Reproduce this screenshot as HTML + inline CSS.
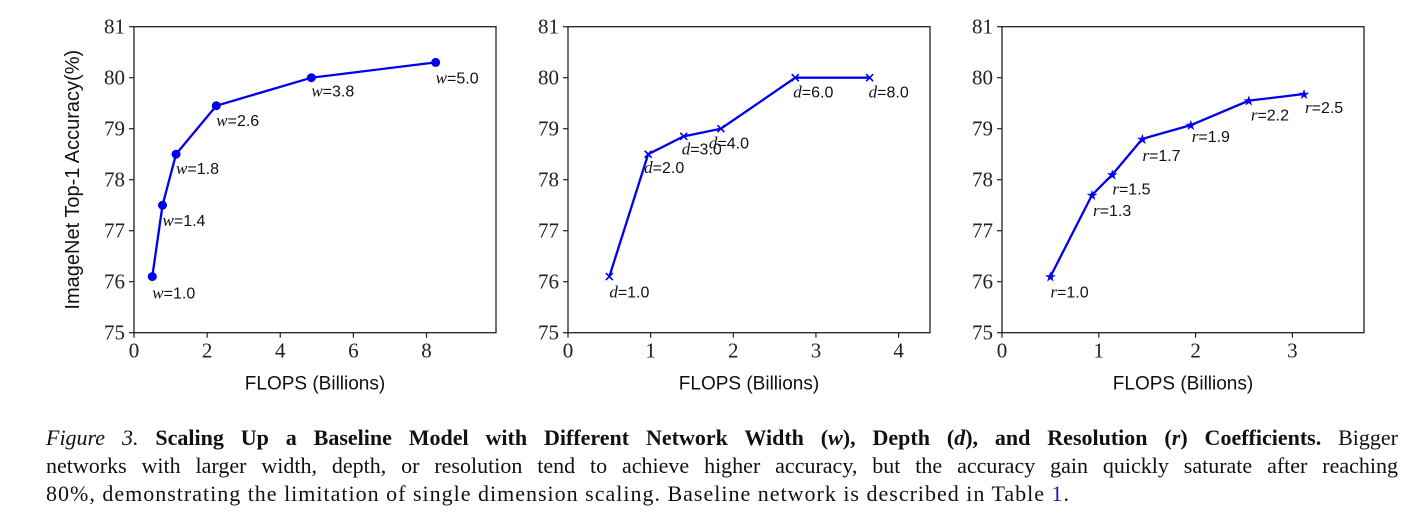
<!DOCTYPE html>
<html><head><meta charset="utf-8">
<style>
body{margin:0;background:#fff;width:1415px;height:524px;overflow:hidden;position:relative}
svg{position:absolute;left:0;top:0}
.cap{position:absolute;left:46px;width:1352px;font-family:"Liberation Serif",serif;font-size:22px;letter-spacing:1px;color:#111;white-space:nowrap;line-height:28px}
.j{text-align:justify;text-align-last:justify;white-space:normal;letter-spacing:0}
</style></head><body>
<svg id="fig" width="1415" height="410"></svg>
<div class="cap j" style="top:424px"><i>Figure 3.</i> <b>Scaling Up a Baseline Model with Different Network Width (<i>w</i>), Depth (<i>d</i>), and Resolution (<i>r</i>) Coefficients.</b> Bigger</div>
<div class="cap j" style="top:452px">networks with larger width, depth, or resolution tend to achieve higher accuracy, but the accuracy gain quickly saturate after reaching</div>
<div class="cap" style="top:480px">80%, demonstrating the limitation of single dimension scaling. Baseline network is described in Table <span style="color:#1a1aa6">1</span>.</div>
<script>
const wFlops=[0.5,0.78,1.15,2.25,4.85,8.25];
const wAcc=[76.1,77.5,78.5,79.45,80.0,80.3];
const wLabels=["1.0","1.4","1.8","2.6","3.8","5.0"];
const dFlops=[0.5,0.97,1.4,1.85,2.75,3.65];
const dAcc=[76.1,78.5,78.85,79.0,80.0,80.0];
const dLabels=["1.0","2.0","3.0","4.0","6.0","8.0"];
const rFlops=[0.5,0.93,1.14,1.45,1.95,2.55,3.12];
const rAcc=[76.1,77.7,78.1,78.8,79.07,79.55,79.68];
const rLabels=["1.0","1.3","1.5","1.7","1.9","2.2","2.5"];
const yTicks=[75,76,77,78,79,80,81];
const wXTicks=[0,2,4,6,8];
const dXTicks=[0,1,2,3,4];
const rXTicks=[0,1,2,3];

const NS="http://www.w3.org/2000/svg";
const svg=document.getElementById('fig');
function mk(tag,attrs,parent){const e=document.createElementNS(NS,tag);for(const k in attrs)e.setAttribute(k,attrs[k]);(parent||svg).appendChild(e);return e;}

function panel(cfg){
  const {L,R,T,B,xmax,xs,ys,labels,letter,xticks,marker,name,offs,ylabel}=cfg;
  const g=mk('g',{});
  
  
  const X=v=>L+v/xmax*(R-L), Y=v=>B-(v-75)/6*(B-T);
  const frame=mk('rect',{x:L,y:T,width:R-L,height:B-T,fill:'none',stroke:'#222','stroke-width':1.3},g);
  
  
  yTicks.forEach(t=>{
    mk('line',{x1:L-5,x2:L,y1:Y(t),y2:Y(t),stroke:'#222','stroke-width':1.2},g);
    const tx=mk('text',{x:L-9,y:Y(t)+7,'text-anchor':'end','font-family':'Liberation Serif, serif','font-size':21,fill:'#222'},g);
    tx.textContent=t;
    
    
  });
  xticks.forEach(t=>{
    mk('line',{x1:X(t),x2:X(t),y1:B,y2:B+5,stroke:'#222','stroke-width':1.2},g);
    const tx=mk('text',{x:X(t),y:B+25,'text-anchor':'middle','font-family':'Liberation Serif, serif','font-size':21,fill:'#222'},g);
    tx.textContent=t;
    
    
  });
  const xl=mk('text',{x:(L+R)/2,y:B+57,'text-anchor':'middle','font-family':'Liberation Sans, sans-serif','font-size':19,fill:'#111'},g);
  xl.textContent='FLOPS (Billions)';
  
  
  if(ylabel){
    const yl=mk('text',{x:0,y:0,transform:`translate(${L-55},${(T+B)/2}) rotate(-90)`,'text-anchor':'middle','font-family':'Liberation Sans, sans-serif','font-size':20,fill:'#111'},g);
    yl.textContent='ImageNet Top-1 Accuracy(%)';
    
    
  }
  const line=mk('polyline',{points:xs.map((x,i)=>X(x)+','+Y(ys[i])).join(' '),fill:'none',stroke:'#0000ee','stroke-width':2.3},g);
  
  
  xs.forEach((x,i)=>{
    const cx=X(x),cy=Y(ys[i]);let m;
    if(marker==='o') m=mk('circle',{cx,cy,r:4.5,fill:'#0000ee'},g);
    else if(marker==='x') m=mk('path',{d:`M${cx-3.5},${cy-3.5}L${cx+3.5},${cy+3.5}M${cx-3.5},${cy+3.5}L${cx+3.5},${cy-3.5}`,stroke:'#0000ee','stroke-width':1.6},g);
    else m=mk('text',{x:cx,y:cy+5,'text-anchor':'middle','font-size':14,fill:'#0000ee','font-family':'DejaVu Sans, sans-serif'},g), m.textContent='★';
    
    
    const o=offs[i]||[0,22];
    const t=mk('text',{x:cx+o[0],y:cy+o[1],'font-family':'Liberation Sans, sans-serif','font-size':16,fill:'#111'},g);
    const it=mk('tspan',{'font-family':'Liberation Serif, serif','font-style':'italic','font-size':17},t);
    it.textContent=letter;
    const rest=mk('tspan',{},t);
    rest.textContent='='+labels[i];
    
    
  });
}
panel({L:134,R:496,T:26.7,B:332.7,xmax:9.9,xs:wFlops,ys:wAcc,labels:wLabels,letter:'w',xticks:wXTicks,marker:'o',name:'width',ylabel:true,
  offs:[[0,22],[0,21],[0,20],[0,20],[0,19],[0,21]]});
panel({L:568,R:930,T:26.7,B:332.7,xmax:4.38,xs:dFlops,ys:dAcc,labels:dLabels,letter:'d',xticks:dXTicks,marker:'x',name:'depth',ylabel:false,
  offs:[[0,21],[-4,19],[-2,18],[-12,20],[-2,20],[-1,20]]});
panel({L:1002,R:1364,T:26.7,B:332.7,xmax:3.74,xs:rFlops,ys:rAcc,labels:rLabels,letter:'r',xticks:rXTicks,marker:'*',name:'resolution',ylabel:false,
  offs:[[0,21],[1,21],[0,20],[0,22],[1,17],[2,20],[1,19]]});
</script>
</body></html>
